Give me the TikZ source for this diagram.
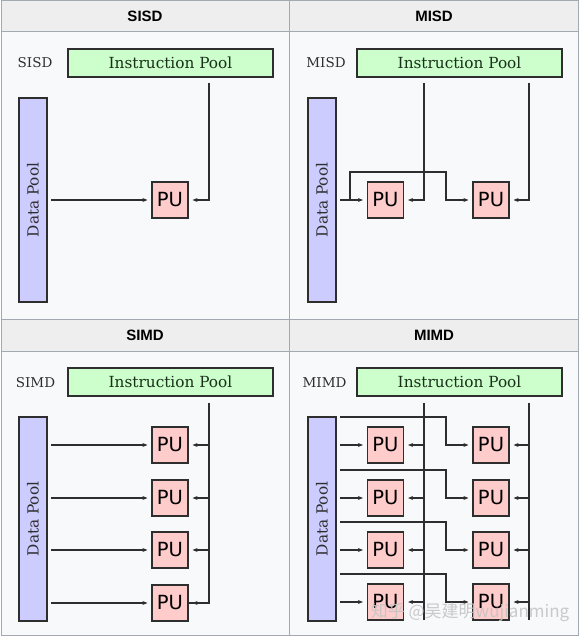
\documentclass[tikz,border=0pt]{standalone}
\usepackage{fontspec}
\setmainfont{DejaVu Serif}
\newfontfamily\hdfont{Liberation Sans}
\newfontfamily\pufont{DejaVu Sans}
\newfontfamily\cjkfont{Noto Sans CJK SC}
\usetikzlibrary{arrows.meta}
\definecolor{gridc}{HTML}{A2A9B1}
\definecolor{headc}{HTML}{EEEEEE}
\definecolor{panelc}{HTML}{F8F9FA}
\definecolor{ipc}{HTML}{CCFFCC}
\definecolor{dpc}{HTML}{CCCCFF}
\definecolor{puc}{HTML}{FFCCCC}
\definecolor{edgec}{HTML}{2E2E2E}
\definecolor{iptext}{HTML}{1A301A}
\definecolor{wmc}{HTML}{C4C4C4}
\tikzset{
  ipool/.style={draw=edgec, line width=1.4pt, fill=ipc, minimum width=205pt, minimum height=28pt, inner sep=0pt, text=iptext, font=\fontsize{15.3}{15.3}\selectfont},
  dpool/.style={draw=edgec, line width=1.4pt, fill=dpc, minimum width=28pt, minimum height=204pt, inner sep=0pt},
  dptext/.style={rotate=90, text=edgec, font=\fontsize{15.3}{15.3}\selectfont},
  pubox/.style={draw=edgec, line width=1.2pt, fill=puc, minimum width=36pt, minimum height=36pt, inner sep=0pt, font=\pufont\fontsize{19.5}{19.5}\selectfont},
  plabel/.style={text=edgec, font=\fontsize{13.5}{13.5}\selectfont},
  hlabel/.style={font=\hdfont\bfseries\fontsize{15}{15}\selectfont},
  wire/.style={draw=edgec, line width=1.1pt},
  arr/.style={wire, -{Stealth[length=5pt,width=4pt]}, shorten >=4pt},
}
\begin{document}
\begin{tikzpicture}[x=1pt,y=-1pt]
\useasboundingbox (0,0) rectangle (588,639);
% table background
\fill[headc] (1,1) rectangle (578,32);
\fill[headc] (1,319) rectangle (578,351);
\fill[panelc] (1,32) rectangle (578,319);
\fill[panelc] (1,351) rectangle (578,635);
\draw[gridc, line width=1pt] (1,1) rectangle (578,635);
\draw[gridc, line width=1pt] (289.5,1) -- (289.5,635);
\draw[gridc, line width=1pt] (1,32) -- (578,32);
\draw[gridc, line width=1pt] (1,319) -- (578,319);
\draw[gridc, line width=1pt] (1,351) -- (578,351);
% headers
\node[hlabel] (h1) at (145,16) {SISD};
\node[hlabel] (h2) at (434,16) {MISD};
\node[hlabel] (h3) at (145,335) {SIMD};
\node[hlabel] (h4) at (434,335) {MIMD};

% ================= SISD =================
\node[plabel] (l1) at (35,63) {SISD};
\node[ipool] (ip1) at (170.5,63) {Instruction Pool};
\node[dpool] (dp1) at (33,200) {};
\node[dptext] (dt1) at (dp1) {Data Pool};
\node[pubox] (pu1) at (170,200) {PU};
\coordinate (ci1) at (209,83);
\coordinate (cd1) at (51,200);
\draw[arr] (cd1) -- (pu1.west);
\draw[arr] (ci1) |- (pu1.east);

% ================= MISD =================
\node[plabel] (l2) at (326,63) {MISD};
\node[ipool] (ip2) at (459.5,63) {Instruction Pool};
\node[dpool] (dp2) at (322,200) {};
\node[dptext] (dt2) at (dp2) {Data Pool};
\node[pubox] (pu2a) at (385.5,200) {PU};
\node[pubox] (pu2b) at (491,200) {PU};
\coordinate (ci2a) at (424,83);
\coordinate (ci2b) at (529,83);
\coordinate (cd2) at (340,200);
\coordinate (cb2) at (350,200);
\coordinate (ct2) at (446,172);
\draw[arr] (cd2) -- (pu2a.west);
\draw[arr] (cb2) |- (ct2) |- (pu2b.west);
\draw[arr] (ci2a) |- (pu2a.east);
\draw[arr] (ci2b) |- (pu2b.east);

% ================= SIMD =================
\node[plabel] (l3) at (35.5,383) {SIMD};
\node[ipool] (ip3) at (170.5,382) {Instruction Pool};
\node[dpool] (dp3) at (33,519) {};
\node[dptext] (dt3) at (dp3) {Data Pool};
\foreach \n/\y in {a/445,b/498,c/550,d/603}{
  \node[pubox] (pu3\n) at (170,\y) {PU};
  \coordinate (cd3\n) at (51,\y);
  \draw[arr] (cd3\n) -- (pu3\n.west);
}
\coordinate (ci3) at (209,403);
\draw[wire] (ci3) |- (pu3d.east);
\foreach \n in {a,b,c,d}{
  \coordinate (cr3\n) at (ci3 |- pu3\n.east);
  \draw[arr] (cr3\n) -- (pu3\n.east);
}

% ================= MIMD =================
\node[plabel] (l4) at (324.5,383) {MIMD};
\node[ipool] (ip4) at (459.5,382) {Instruction Pool};
\node[dpool] (dp4) at (322,519) {};
\node[dptext] (dt4) at (dp4) {Data Pool};
\coordinate (ci4a) at (424,403);
\coordinate (ci4b) at (529,403);
\coordinate (ce4a) at (424,620);
\coordinate (ce4b) at (529,620);
\draw[wire] (ci4a) -- (ce4a);
\draw[wire] (ci4b) -- (ce4b);
\foreach \n/\y in {a/445,b/498,c/550,d/602}{
  \node[pubox] (pu4\n) at (385.5,\y) {PU};
  \node[pubox] (pv4\n) at (491,\y) {PU};
  \coordinate (cd4\n) at (340,\y);
  \coordinate (cs4\n) at (340,\y-28);
  \coordinate (ct4\n) at (446,\y-28);
  \draw[arr] (cd4\n) -- (pu4\n.west);
  \draw[arr] (cs4\n) -- (ct4\n) |- (pv4\n.west);
  \coordinate (cr4\n) at (ci4a |- pu4\n.east);
  \coordinate (cq4\n) at (ci4b |- pv4\n.east);
  \draw[arr] (cr4\n) -- (pu4\n.east);
  \draw[arr] (cq4\n) -- (pv4\n.east);
}
% watermark
\node[text=wmc, opacity=0.9, font=\cjkfont\fontsize{17}{17}\selectfont] (wm) at (470,612) {知乎 @吴建明wujianming};
\end{tikzpicture}
\end{document}
